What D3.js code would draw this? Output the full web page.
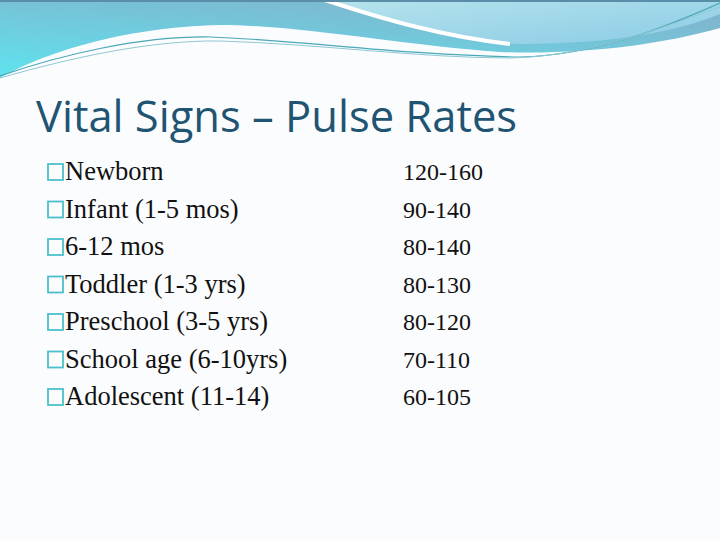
<!DOCTYPE html>
<html><head><meta charset="utf-8">
<script src="https://cdn.jsdelivr.net/npm/d3@7"></script>
<style>body{margin:0;background:#fff}</style>
</head><body>
<script>
const title = "Vital Signs – Pulse Rates";
const categories = ["Newborn","Infant (1-5 mos)","6-12 mos","Toddler (1-3 yrs)","Preschool (3-5 yrs)","School age (6-10yrs)","Adolescent (11-14)"];
const ranges = ["120-160","90-140","80-140","80-130","80-120","70-110","60-105"];

const W=720,H=540;
const svg=d3.select("body").append("svg").attr("width",W).attr("height",H);
const defs=svg.append("defs");
const g1=defs.append("linearGradient").attr("id","g1").attr("x1",0).attr("y1",1).attr("x2",0.6).attr("y2",0);
g1.append("stop").attr("offset",0).attr("stop-color","#5fe3ee");
g1.append("stop").attr("offset",1).attr("stop-color","#7fb6cf");
const g2=defs.append("linearGradient").attr("id","g2").attr("x1",0).attr("y1",0).attr("x2",1).attr("y2",1);
g2.append("stop").attr("offset",0).attr("stop-color","#b5e4ec");
g2.append("stop").attr("offset",1).attr("stop-color","#8ccbe6");
svg.append("rect").attr("width",W).attr("height",H).attr("fill","#fbfcfd");
svg.append("path").attr("d","M0,0 H720 V28 C660,45 580,55 500,52 C400,45 300,25 220,25 C120,27 40,55 0,78 Z").attr("fill","url(#g1)");
svg.append("path").attr("d","M325,0 H720 V14 C680,30 620,44 520,44 C450,40 390,20 325,0 Z").attr("fill","url(#g2)");
svg.append("path").attr("d","M325,0 C380,18 440,36 510,44").attr("fill","none").attr("stroke","#fff").attr("stroke-width",4);
svg.append("path").attr("d","M0,76 C60,55 140,36 210,37 C300,40 400,55 520,57 C600,55 670,25 720,3").attr("fill","none").attr("stroke","#4aa8b8").attr("stroke-width",1.2);
svg.append("path").attr("d","M0,78 C70,58 150,40 220,41 C320,44 420,58 510,58 C600,56 680,20 720,7").attr("fill","none").attr("stroke","#8fc8d4").attr("stroke-width",1);
svg.append("rect").attr("width",W).attr("height",2).attr("fill","#5a8ea8");

svg.append("text").attr("x",36).attr("y",132).text(title)
  .attr("font-family","'Open Sans','Noto Sans',sans-serif").attr("font-size",43.5).attr("fill","#1f5473");

const y=d3.scalePoint().domain(categories).range([180,405]);
const rows=svg.append("g").selectAll("g").data(categories).join("g").attr("transform",d=>`translate(0,${y(d)})`);
rows.append("rect").attr("x",48).attr("y",-16).attr("width",15).attr("height",16).attr("fill","none").attr("stroke","#4bc0cc").attr("stroke-width",1.8);
rows.append("text").attr("x",65).text(d=>d).attr("font-family","'Liberation Serif','DejaVu Serif',serif").attr("font-size",26.5).attr("fill","#111");
rows.append("text").attr("x",403).text((d,i)=>ranges[i]).attr("font-family","'Liberation Serif','DejaVu Serif',serif").attr("font-size",24).attr("fill","#111");
</script>
</body></html>
